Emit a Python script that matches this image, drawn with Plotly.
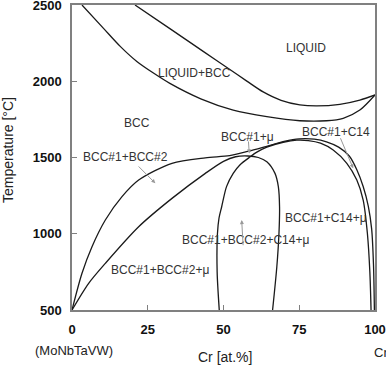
import plotly.graph_objects as go

# ---- data (Cr at.% , Temperature °C) ----
liquidus_x = [20.8, 32.3, 43.3, 52.1, 57.7, 63.1, 69.0, 75.2, 80.8, 88.4, 95.0, 100.0]
liquidus_T = [2500, 2345, 2196, 2077, 2001, 1930, 1875, 1845, 1838, 1849, 1877, 1910]

solidus_x = [3.3, 10.4, 16.0, 21.5, 27.0, 32.3, 42.5, 53.2, 64.3, 75.2, 84.0, 89.5, 95.0, 100.0]
solidus_T = [2500, 2347, 2227, 2128, 2052, 1986, 1885, 1811, 1768, 1741, 1741, 1757, 1811, 1910]

bcc_outer_x = [0, 3.3, 6.6, 11, 16.5, 22, 33, 44, 52, 58, 64, 70, 75, 80, 84, 88, 91.5, 94, 96.1, 97.8, 98.9, 99.5, 99.8]
bcc_outer_T = [500, 741, 915, 1090, 1243, 1352, 1462, 1498, 1512, 1540, 1572, 1605, 1622, 1620, 1603, 1568, 1510, 1420, 1310, 1180, 1030, 800, 500]

bcc2_x = [0, 5.5, 11, 22, 33, 44, 50, 54, 58, 61.5, 64.3, 67, 68.1, 68.5, 68.3, 67.6, 66.2]
bcc2_T = [500, 675, 806, 1046, 1232, 1396, 1475, 1505, 1510, 1500, 1472, 1396, 1309, 1177, 1000, 784, 500]

mu_c14_x = [48.6, 47.9, 48.0, 48.5, 49.4, 51.0, 53.2, 55.4, 58.7, 61.0, 64.3, 69.7, 74.2, 78.0, 82.0, 86.2, 90.7, 94.0, 96.1, 97.5, 98.3, 98.7]
mu_c14_T = [500, 750, 1000, 1100, 1177, 1309, 1396, 1451, 1503, 1535, 1568, 1600, 1614, 1611, 1594, 1549, 1462, 1352, 1221, 1000, 750, 500]

x_ticks = [0, 25, 50, 75, 100]
y_ticks = [500, 1000, 1500, 2000, 2500]

# region labels: (text, x, T)
labels = [
    ("LIQUID", 77.2, 2218),
    ("LIQUID+BCC", 40.3, 2054),
    ("BCC", 21.4, 1726),
    ("BCC#1+μ", 57.8, 1634),
    ("BCC#1+C14", 87.2, 1667),
    ("BCC#1+BCC#2", 17.5, 1503),
    ("BCC#1+BCC#2+μ", 29.0, 762),
    ("BCC#1+BCC#2+C14+μ", 57.1, 959),
    ("BCC#1+C14+μ", 83.8, 1103),
]

# pointer arrows: (tail x, tail T, head x, head T)
arrows = [
    (21.5, 1451, 27.5, 1331),
    (58.2, 1615, 58.5, 1527),
    (88.4, 1636, 92.8, 1429),
    (56.5, 915, 56.0, 1090),
]

fig = go.Figure()
for xs, ts in [(liquidus_x, liquidus_T), (solidus_x, solidus_T), (bcc_outer_x, bcc_outer_T),
               (bcc2_x, bcc2_T), (mu_c14_x, mu_c14_T)]:
    fig.add_trace(go.Scatter(x=xs, y=ts, mode="lines", line=dict(color="#1a1a1a", width=1.3, shape="spline", smoothing=0.8),
                             showlegend=False, hoverinfo="skip", cliponaxis=True))

FONT = "Liberation Sans, Arial, sans-serif"
for txt, x, t in labels:
    fig.add_annotation(x=x, y=t, text=txt, showarrow=False, font=dict(family=FONT, size=12, color="#333333"))

for ax, ay, hx, hy in arrows:
    fig.add_annotation(x=hx, y=hy, ax=ax, ay=ay, axref="x", ayref="y", xref="x", yref="y", text="",
                       showarrow=True, arrowhead=2, arrowsize=0.8, arrowwidth=1, arrowcolor="#999999")

def paper_note(px, py, text, size, angle=0):
    fig.add_annotation(xref="paper", yref="paper", x=(px - 72) / 303, y=(310 - py) / 305, text=text,
                       xanchor="center", yanchor="middle", textangle=angle, showarrow=False,
                       font=dict(family=FONT, size=size, color="#222222"))

paper_note(8, 150, "Temperature [°C]", 14, -90)
paper_note(225, 357, "Cr [at.%]", 14)
paper_note(74, 350, "(MoNbTaVW)", 13)
paper_note(381, 352, "Cr", 13)

fig.update_layout(
    width=386, height=366,
    margin=dict(l=72, r=11, t=5, b=56, autoexpand=False),
    paper_bgcolor="white", plot_bgcolor="white",
    xaxis=dict(range=[0, 100], tickvals=x_ticks, ticks="inside", ticklen=5, tickcolor="#808080",
               showline=True, linecolor="#808080", linewidth=1.5, mirror=True, showgrid=False, zeroline=False,
               automargin=False, ticklabeloverflow="allow",
               tickfont=dict(family=FONT, size=13, color="#111111", weight="bold"), ticklabelstandoff=7),
    yaxis=dict(range=[500, 2500], tickvals=y_ticks, ticks="inside", ticklen=5, tickcolor="#808080",
               showline=True, linecolor="#808080", linewidth=1.5, mirror=True, showgrid=False, zeroline=False,
               automargin=False, ticklabeloverflow="allow",
               tickfont=dict(family=FONT, size=13, color="#111111", weight="bold"), ticklabelstandoff=6),
)

fig.write_html("out.html", config={"displayModeBar": False},
               post_script="document.body.style.margin='0';document.body.style.overflow='hidden';")
